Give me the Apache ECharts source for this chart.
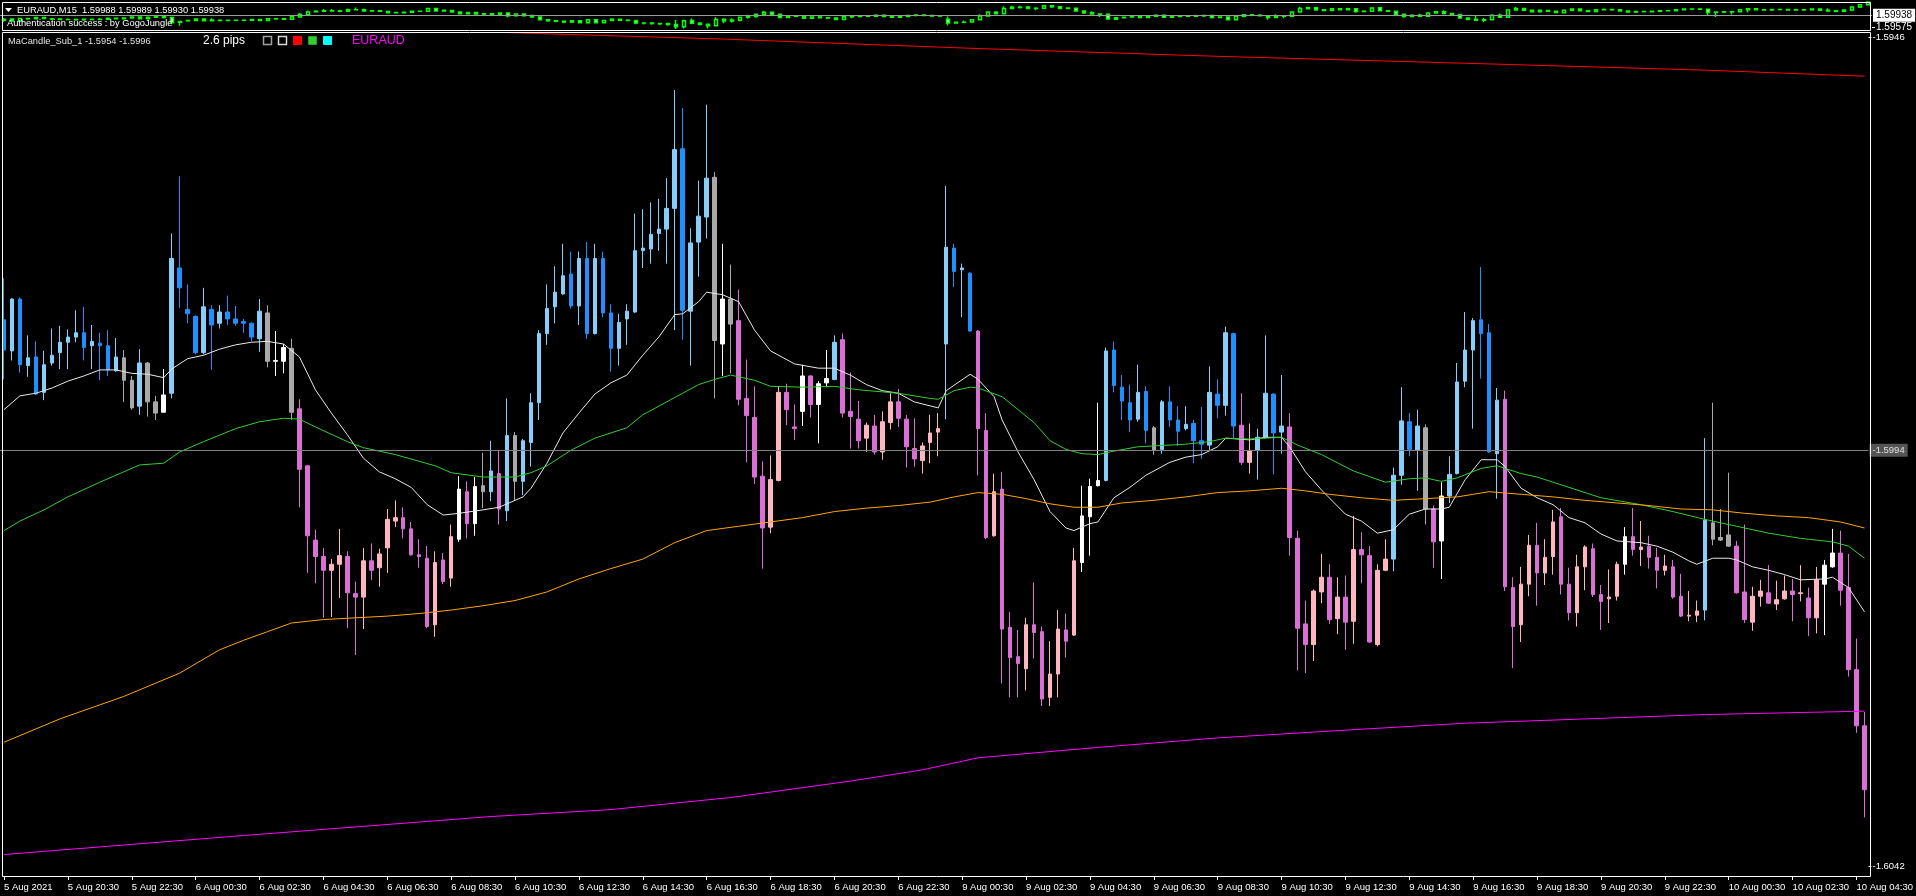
<!DOCTYPE html>
<html><head><meta charset="utf-8">
<script src="https://cdn.jsdelivr.net/npm/echarts@6/dist/echarts.min.js"></script>
<style>html,body{margin:0;padding:0;background:#000;overflow:hidden}#c{width:1916px;height:896px}</style>
</head><body><div id="c"></div>
<script>
// ---- data: MaCandle_Sub_1 sub-window candles (EURAUD M15, values as shown on the sub-window scale) ----
const subOpen = [-1.59787,-1.59823,-1.59763,-1.59840,-1.59830,-1.59871,-1.59837,-1.59825,-1.59813,-1.59807,
-1.59802,-1.59817,-1.59814,-1.59817,-1.59846,-1.59831,-1.59857,-1.59887,-1.59837,-1.59882,
-1.59894,-1.59872,-1.59727,-1.59775,-1.59783,-1.59825,-1.59775,-1.59791,-1.59778,-1.59786,
-1.59789,-1.59791,-1.59809,-1.59779,-1.59835,-1.59835,-1.59820,-1.59890,-1.59956,-1.60042,
-1.60061,-1.60077,-1.60070,-1.60061,-1.60104,-1.60108,-1.60066,-1.60074,-1.60051,-1.60020,
-1.60016,-1.60029,-1.60059,-1.60063,-1.60140,-1.60065,-1.60086,-1.60041,-1.59986,-1.60023,
-1.59979,-1.59986,-1.59965,-1.60008,-1.59921,-1.59974,-1.59929,-1.59883,-1.59803,-1.59772,
-1.59757,-1.59734,-1.59771,-1.59716,-1.59803,-1.59716,-1.59779,-1.59820,-1.59786,-1.59778,
-1.59707,-1.59705,-1.59687,-1.59682,-1.59658,-1.59589,-1.59777,-1.59697,-1.59668,-1.59622,
-1.59815,-1.59763,-1.59788,-1.59878,-1.59900,-1.59968,-1.60027,-1.59973,-1.59871,-1.59911,
-1.59893,-1.59852,-1.59885,-1.59860,-1.59856,-1.59810,-1.59893,-1.59902,-1.59924,-1.59910,
-1.59940,-1.59906,-1.59882,-1.59902,-1.59936,-1.59950,-1.59929,-1.59917,-1.59815,-1.59704,
-1.59729,-1.59733,-1.59800,-1.59915,-1.60037,-1.59983,-1.60143,-1.60177,-1.60191,-1.60140,
-1.60148,-1.60224,-1.60197,-1.60146,-1.60152,-1.60068,-1.60015,-1.59979,-1.59973,-1.59822,
-1.59865,-1.59883,-1.59902,-1.59870,-1.59912,-1.59937,-1.59882,-1.59903,-1.59913,-1.59907,
-1.59927,-1.59932,-1.59873,-1.59886,-1.59803,-1.59909,-1.59952,-1.59938,-1.59923,-1.59873,
-1.59917,-1.59911,-1.60040,-1.60139,-1.60163,-1.60102,-1.60085,-1.60133,-1.60108,-1.60136,
-1.60053,-1.60060,-1.60163,-1.60077,-1.60064,-1.59967,-1.59905,-1.59938,-1.59912,-1.60006,
-1.60043,-1.59991,-1.59965,-1.59858,-1.59822,-1.59787,-1.59802,-1.59942,-1.59879,-1.60097,
-1.60140,-1.60093,-1.60048,-1.60080,-1.60061,-1.60015,-1.60093,-1.60126,-1.60073,-1.60052,
-1.60105,-1.60110,-1.60107,-1.60070,-1.60038,-1.60053,-1.60049,-1.60062,-1.60077,-1.60073,
-1.60107,-1.60130,-1.60129,-1.60123,-1.60022,-1.60039,-1.60036,-1.60049,-1.60102,-1.60137,
-1.60107,-1.60103,-1.60116,-1.60110,-1.60101,-1.60104,-1.60109,-1.60132,-1.60093,-1.60073,
-1.60057,-1.60097,-1.60192,-1.60257];
const subClose = [-1.59822,-1.59763,-1.59839,-1.59831,-1.59873,-1.59839,-1.59828,-1.59813,-1.59807,-1.59802,
-1.59819,-1.59812,-1.59817,-1.59845,-1.59830,-1.59857,-1.59889,-1.59837,-1.59882,-1.59895,
-1.59874,-1.59716,-1.59750,-1.59780,-1.59825,-1.59772,-1.59793,-1.59778,-1.59786,-1.59791,
-1.59791,-1.59807,-1.59777,-1.59835,-1.59834,-1.59819,-1.59894,-1.59960,-1.60037,-1.60061,
-1.60077,-1.60070,-1.60060,-1.60103,-1.60108,-1.60066,-1.60077,-1.60058,-1.60018,-1.60016,
-1.60029,-1.60059,-1.60061,-1.60142,-1.60068,-1.60090,-1.60038,-1.59983,-1.60023,-1.59980,
-1.59986,-1.59962,-1.60006,-1.59921,-1.59974,-1.59927,-1.59883,-1.59803,-1.59774,-1.59755,
-1.59736,-1.59771,-1.59716,-1.59803,-1.59716,-1.59779,-1.59820,-1.59790,-1.59777,-1.59707,
-1.59704,-1.59688,-1.59682,-1.59658,-1.59590,-1.59776,-1.59698,-1.59667,-1.59623,-1.59811,
-1.59763,-1.59792,-1.59879,-1.59898,-1.59969,-1.60028,-1.59972,-1.59871,-1.59891,-1.59913,
-1.59852,-1.59885,-1.59861,-1.59855,-1.59813,-1.59895,-1.59899,-1.59927,-1.59909,-1.59940,
-1.59905,-1.59882,-1.59901,-1.59934,-1.59948,-1.59933,-1.59918,-1.59913,-1.59703,-1.59731,
-1.59727,-1.59800,-1.59913,-1.60039,-1.59986,-1.60145,-1.60178,-1.60185,-1.60140,-1.60149,
-1.60226,-1.60197,-1.60145,-1.60159,-1.60066,-1.60014,-1.59980,-1.59973,-1.59823,-1.59863,
-1.59881,-1.59903,-1.59871,-1.59915,-1.59938,-1.59882,-1.59903,-1.59916,-1.59908,-1.59927,
-1.59931,-1.59871,-1.59886,-1.59802,-1.59910,-1.59952,-1.59939,-1.59923,-1.59872,-1.59918,
-1.59910,-1.60039,-1.60144,-1.60163,-1.60101,-1.60085,-1.60134,-1.60108,-1.60137,-1.60053,
-1.60059,-1.60160,-1.60077,-1.60064,-1.59967,-1.59904,-1.59937,-1.59910,-1.60006,-1.60044,
-1.59991,-1.59966,-1.59859,-1.59822,-1.59788,-1.59803,-1.59940,-1.59880,-1.60096,-1.60142,
-1.60093,-1.60048,-1.60080,-1.60062,-1.60021,-1.60093,-1.60126,-1.60073,-1.60050,-1.60105,
-1.60113,-1.60108,-1.60070,-1.60038,-1.60053,-1.60050,-1.60062,-1.60077,-1.60072,-1.60108,
-1.60130,-1.60129,-1.60124,-1.60019,-1.60041,-1.60042,-1.60049,-1.60103,-1.60134,-1.60107,
-1.60101,-1.60115,-1.60111,-1.60101,-1.60105,-1.60103,-1.60132,-1.60088,-1.60071,-1.60057,
-1.60100,-1.60192,-1.60257,-1.60331];
const subHigh = [-1.59739,-1.59762,-1.59761,-1.59805,-1.59812,-1.59823,-1.59797,-1.59794,-1.59798,-1.59776,
-1.59772,-1.59793,-1.59802,-1.59799,-1.59808,-1.59822,-1.59852,-1.59821,-1.59836,-1.59875,
-1.59844,-1.59687,-1.59621,-1.59746,-1.59782,-1.59750,-1.59770,-1.59770,-1.59759,-1.59771,
-1.59786,-1.59790,-1.59763,-1.59770,-1.59800,-1.59815,-1.59809,-1.59879,-1.59955,-1.60030,
-1.60051,-1.60064,-1.60029,-1.60055,-1.60090,-1.60051,-1.60046,-1.60052,-1.60006,-1.59996,
-1.60004,-1.60021,-1.60041,-1.60049,-1.60055,-1.60057,-1.60024,-1.59968,-1.59974,-1.59969,
-1.59941,-1.59927,-1.59939,-1.59878,-1.59917,-1.59925,-1.59872,-1.59799,-1.59746,-1.59725,
-1.59699,-1.59708,-1.59708,-1.59697,-1.59699,-1.59708,-1.59769,-1.59780,-1.59769,-1.59664,
-1.59659,-1.59651,-1.59647,-1.59623,-1.59521,-1.59542,-1.59681,-1.59626,-1.59538,-1.59616,
-1.59699,-1.59723,-1.59752,-1.59833,-1.59864,-1.59951,-1.59944,-1.59864,-1.59861,-1.59885,
-1.59839,-1.59851,-1.59858,-1.59822,-1.59805,-1.59803,-1.59848,-1.59881,-1.59906,-1.59897,
-1.59893,-1.59872,-1.59867,-1.59897,-1.59901,-1.59929,-1.59897,-1.59895,-1.59632,-1.59699,
-1.59722,-1.59732,-1.59799,-1.59895,-1.59965,-1.59963,-1.60125,-1.60146,-1.60132,-1.60091,
-1.60142,-1.60159,-1.60123,-1.60127,-1.60051,-1.59979,-1.59971,-1.59883,-1.59819,-1.59812,
-1.59851,-1.59862,-1.59839,-1.59864,-1.59910,-1.59880,-1.59864,-1.59887,-1.59887,-1.59903,
-1.59888,-1.59841,-1.59856,-1.59795,-1.59802,-1.59872,-1.59907,-1.59913,-1.59805,-1.59872,
-1.59851,-1.59895,-1.60031,-1.60112,-1.60099,-1.60058,-1.60070,-1.60085,-1.60083,-1.60014,
-1.60033,-1.60049,-1.60070,-1.60041,-1.59958,-1.59865,-1.59895,-1.59891,-1.59908,-1.60002,
-1.59975,-1.59945,-1.59837,-1.59778,-1.59785,-1.59726,-1.59792,-1.59866,-1.59869,-1.60085,
-1.60073,-1.60036,-1.60022,-1.60041,-1.60007,-1.60005,-1.60074,-1.60059,-1.60048,-1.60046,
-1.60094,-1.60076,-1.60067,-1.60027,-1.60005,-1.60020,-1.60037,-1.60051,-1.60059,-1.60065,
-1.60081,-1.60101,-1.60112,-1.59924,-1.59883,-1.60006,-1.59964,-1.60043,-1.60024,-1.60096,
-1.60088,-1.60071,-1.60089,-1.60083,-1.60087,-1.60071,-1.60097,-1.60073,-1.60065,-1.60029,
-1.60031,-1.60058,-1.60156,-1.60241];
const subLow = [-1.59856,-1.59834,-1.59848,-1.59853,-1.59874,-1.59880,-1.59840,-1.59844,-1.59844,-1.59813,
-1.59834,-1.59844,-1.59857,-1.59852,-1.59847,-1.59882,-1.59891,-1.59897,-1.59899,-1.59903,
-1.59894,-1.59878,-1.59773,-1.59791,-1.59827,-1.59827,-1.59845,-1.59797,-1.59793,-1.59794,
-1.59802,-1.59812,-1.59824,-1.59842,-1.59852,-1.59849,-1.59903,-1.60004,-1.60080,-1.60092,
-1.60132,-1.60131,-1.60109,-1.60144,-1.60175,-1.60145,-1.60088,-1.60096,-1.60080,-1.60027,
-1.60040,-1.60060,-1.60074,-1.60144,-1.60154,-1.60093,-1.60096,-1.60044,-1.60040,-1.60037,
-1.60005,-1.59997,-1.60024,-1.60020,-1.59996,-1.59990,-1.59957,-1.59903,-1.59816,-1.59791,
-1.59758,-1.59774,-1.59793,-1.59809,-1.59804,-1.59784,-1.59847,-1.59840,-1.59816,-1.59779,
-1.59727,-1.59722,-1.59707,-1.59722,-1.59799,-1.59810,-1.59840,-1.59737,-1.59693,-1.59878,
-1.59852,-1.59849,-1.59886,-1.59952,-1.59977,-1.60075,-1.60034,-1.59974,-1.59909,-1.59926,
-1.59910,-1.59900,-1.59930,-1.59865,-1.59857,-1.59900,-1.59936,-1.59936,-1.59940,-1.59943,
-1.59949,-1.59914,-1.59911,-1.59958,-1.59957,-1.59965,-1.59953,-1.59945,-1.59902,-1.59749,
-1.59784,-1.59801,-1.59967,-1.60041,-1.60038,-1.60208,-1.60224,-1.60224,-1.60216,-1.60179,
-1.60234,-1.60234,-1.60224,-1.60178,-1.60153,-1.60079,-1.60060,-1.59980,-1.59974,-1.59871,
-1.59903,-1.59917,-1.59905,-1.59930,-1.59943,-1.59942,-1.59911,-1.59933,-1.59915,-1.59953,
-1.59948,-1.59939,-1.59901,-1.59898,-1.59924,-1.59955,-1.59965,-1.59972,-1.59924,-1.59966,
-1.59942,-1.60060,-1.60193,-1.60196,-1.60182,-1.60115,-1.60139,-1.60151,-1.60169,-1.60162,
-1.60092,-1.60161,-1.60165,-1.60078,-1.60078,-1.59978,-1.59945,-1.59985,-1.60024,-1.60074,
-1.60087,-1.59999,-1.59966,-1.59865,-1.59913,-1.59855,-1.59941,-1.59994,-1.60101,-1.60190,
-1.60160,-1.60107,-1.60118,-1.60094,-1.60082,-1.60105,-1.60135,-1.60142,-1.60100,-1.60108,
-1.60146,-1.60138,-1.60112,-1.60082,-1.60060,-1.60072,-1.60075,-1.60098,-1.60083,-1.60110,
-1.60131,-1.60136,-1.60137,-1.60135,-1.60048,-1.60043,-1.60050,-1.60104,-1.60138,-1.60147,
-1.60119,-1.60116,-1.60123,-1.60111,-1.60136,-1.60113,-1.60153,-1.60150,-1.60152,-1.60074,
-1.60118,-1.60200,-1.60265,-1.60363];
// candle colour zone per bar: B = blue, P = pink, W = white/grey
const zones = ['BBBBBBBBBBBBBBB','WW','B','WWW','BBBBBBBBBBBB','WWWW','PPPPPPPPPPPPPPPPPPPP','W','P','WW','B','P','B','W',
'BBBBBBBBBBBBBBBBBBBBBBBB','WWW','PPPPPPPP','W','P','WW','B','PPPPPPPPPPPPP','BBBB','PPPPPPPPPPPPP','WWW','BBBBBB','W',
'BBBBBBBBBB','PP','BBBB','PPPPPPPPPPPPP','BBBB','W','P','W','BBBBBBB','PPPPPPPPPPPPPPP','W','PPPPPPPPP','B','WWW',
'PPPPPPPPPPP','WW','PPPP'].join('');
// moving averages [bar index, value]
const maWhite = [[0,-1.59891],[2,-1.59875],[4,-1.59872],[6,-1.59866],[8,-1.59858],[10,-1.59852],[12,-1.59845],[14,-1.59845],[16,-1.59849],[18,-1.59850],[20,-1.59854],[21,-1.59844],[23,-1.59832],[25,-1.59828],[27,-1.59821],[29,-1.59816],[31,-1.59813],[33,-1.59812],[35,-1.59815],[37,-1.59830],[39,-1.59868],[41,-1.59895],[43,-1.59920],[45,-1.59947],[47,-1.59963],[49,-1.59971],[51,-1.59981],[53,-1.60001],[55,-1.60013],[57,-1.60011],[60,-1.60007],[62,-1.60004],[65,-1.59992],[66,-1.59982],[68,-1.59953],[70,-1.59918],[72,-1.59895],[74,-1.59873],[76,-1.59860],[78,-1.59851],[80,-1.59828],[82,-1.59807],[84,-1.59781],[85,-1.59780],[87,-1.59766],[88,-1.59755],[90,-1.59758],[92,-1.59766],[94,-1.59799],[96,-1.59823],[99,-1.59838],[102,-1.59843],[104,-1.59843],[106,-1.59851],[108,-1.59862],[110,-1.59869],[112,-1.59872],[114,-1.59882],[117,-1.59889],[118,-1.59869],[121,-1.59850],[122,-1.59856],[124,-1.59876],[125,-1.59903],[127,-1.59940],[129,-1.59972],[131,-1.60009],[133,-1.60028],[134,-1.60031],[136,-1.60023],[137,-1.60021],[139,-1.59993],[141,-1.59981],[143,-1.59967],[146,-1.59952],[148,-1.59946],[150,-1.59943],[152,-1.59934],[153,-1.59924],[156,-1.59926],[158,-1.59923],[160,-1.59923],[161,-1.59934],[163,-1.59963],[165,-1.59984],[168,-1.60012],[170,-1.60020],[172,-1.60034],[174,-1.60030],[176,-1.60012],[178,-1.60006],[180,-1.60006],[181,-1.60004],[183,-1.59972],[185,-1.59949],[187,-1.59949],[188,-1.59957],[190,-1.59982],[192,-1.59993],[194,-1.60001],[196,-1.60016],[198,-1.60022],[200,-1.60035],[202,-1.60043],[205,-1.60045],[207,-1.60049],[209,-1.60056],[211,-1.60066],[212,-1.60070],[214,-1.60063],[216,-1.60063],[217,-1.60065],[219,-1.60073],[221,-1.60077],[223,-1.60082],[225,-1.60088],[228,-1.60087],[229,-1.60085],[231,-1.60097],[233,-1.60125]];
const maGreen = [[0,-1.60031],[2,-1.60020],[5,-1.60007],[8,-1.59992],[12,-1.59975],[15,-1.59963],[17,-1.59955],[20,-1.59953],[22,-1.59940],[25,-1.59928],[29,-1.59913],[32,-1.59905],[35,-1.59901],[37,-1.59902],[39,-1.59911],[43,-1.59928],[45,-1.59935],[49,-1.59943],[54,-1.59956],[56,-1.59964],[60,-1.59969],[64,-1.59969],[66,-1.59964],[68,-1.59956],[71,-1.59938],[74,-1.59924],[78,-1.59912],[80,-1.59897],[83,-1.59882],[85,-1.59872],[87,-1.59862],[89,-1.59856],[91,-1.59851],[94,-1.59857],[96,-1.59864],[100,-1.59865],[104,-1.59864],[107,-1.59868],[112,-1.59872],[116,-1.59878],[117,-1.59879],[119,-1.59869],[121,-1.59865],[122,-1.59866],[125,-1.59876],[129,-1.59906],[131,-1.59927],[133,-1.59937],[135,-1.59942],[137,-1.59943],[139,-1.59939],[142,-1.59934],[144,-1.59933],[148,-1.59931],[151,-1.59928],[153,-1.59924],[156,-1.59925],[160,-1.59923],[162,-1.59932],[165,-1.59943],[169,-1.59962],[173,-1.59975],[176,-1.59971],[178,-1.59970],[180,-1.59974],[182,-1.59970],[185,-1.59959],[187,-1.59956],[190,-1.59965],[192,-1.59969],[196,-1.59981],[200,-1.59993],[205,-1.60001],[209,-1.60009],[213,-1.60018],[217,-1.60026],[221,-1.60034],[225,-1.60040],[229,-1.60044],[231,-1.60049],[233,-1.60063]];
const maOrange = [[0,-1.60276],[7,-1.60249],[15,-1.60223],[22,-1.60196],[27,-1.60169],[30,-1.60158],[33,-1.60148],[36,-1.60138],[40,-1.60134],[44,-1.60132],[48,-1.60130],[52,-1.60127],[56,-1.60123],[60,-1.60118],[64,-1.60112],[68,-1.60102],[72,-1.60087],[76,-1.60075],[80,-1.60064],[84,-1.60045],[88,-1.60031],[92,-1.60026],[96,-1.60021],[100,-1.60016],[104,-1.60009],[108,-1.60005],[112,-1.60002],[116,-1.59998],[119,-1.59992],[122,-1.59987],[125,-1.59989],[128,-1.59994],[131,-1.60000],[134,-1.60004],[137,-1.60004],[140,-1.59999],[144,-1.59996],[148,-1.59992],[152,-1.59987],[156,-1.59985],[160,-1.59982],[163,-1.59985],[166,-1.59989],[170,-1.59993],[174,-1.59996],[178,-1.59994],[182,-1.59992],[186,-1.59986],[190,-1.59989],[194,-1.59992],[198,-1.59996],[202,-1.59999],[206,-1.60002],[210,-1.60006],[214,-1.60007],[218,-1.60011],[222,-1.60014],[226,-1.60016],[230,-1.60021],[233,-1.60028]];
const maMagenta = [[0,-1.60406],[30,-1.60384],[61,-1.60362],[76,-1.60354],[91,-1.60340],[106,-1.60321],[115,-1.60308],[122,-1.60294],[137,-1.60282],[152,-1.60271],[168,-1.60262],[183,-1.60254],[198,-1.60249],[213,-1.60244],[233,-1.60240]];
const maRed = [[0,-1.59437],[61,-1.59454],[90,-1.59462],[122,-1.59473],[152,-1.59482],[183,-1.59490],[213,-1.59498],[233,-1.59505]];
const tickLabels = ['5 Aug 2021','5 Aug 20:30','5 Aug 22:30','6 Aug 00:30','6 Aug 02:30','6 Aug 04:30','6 Aug 06:30','6 Aug 08:30','6 Aug 10:30','6 Aug 12:30','6 Aug 14:30','6 Aug 16:30','6 Aug 18:30','6 Aug 20:30','6 Aug 22:30','9 Aug 00:30','9 Aug 02:30','9 Aug 04:30','9 Aug 06:30','9 Aug 08:30','9 Aug 10:30','9 Aug 12:30','9 Aug 14:30','9 Aug 16:30','9 Aug 18:30','9 Aug 20:30','9 Aug 22:30','10 Aug 00:30','10 Aug 02:30','10 Aug 04:30'];
const subAxisLabels = [-1.5946, -1.6042];
const priceLineSub = -1.59938;
const priceLineMain = 1.59938;
const mainAxisLabels = [1.59575];

// ---- categories: M15 bar times starting 5 Aug 2021 18:30, weekend skipped ----
const categories = [];
(function(){
  let t = Date.UTC(2021,7,5,18,30);
  const mon = ['Jan','Feb','Mar','Apr','May','Jun','Jul','Aug','Sep','Oct','Nov','Dec'];
  for (let i=0;i<subOpen.length;i++){
    const d = new Date(t);
    categories.push(d.getUTCDate()+' '+mon[d.getUTCMonth()]+' '+String(d.getUTCHours()).padStart(2,'0')+':'+String(d.getUTCMinutes()).padStart(2,'0'));
    t += 15*60000;
    if (new Date(t).getUTCDay()===6) t += 2*86400000;
  }
})();

const COLORS = {B:['#87CEFA','#1E90FF'], P:['#FFB6C1','#DA70D6'], W:['#FFFFFF','#A9A9A9']};
const mainData = subOpen.map((o,i)=>{
  const c = subClose[i];
  const col = COLORS[zones[i]][c >= o ? 0 : 1];
  return {value:[o, c, subLow[i], subHigh[i]], itemStyle:{color:col,color0:col,borderColor:col,borderColor0:col,borderColorDoji:col}};
});
const stripData = subOpen.map((o,i)=>[-o, -subClose[i], -subHigh[i], -subLow[i]]);

const FONT = 'Liberation Sans';
function line(data, color){
  return {type:'line', xAxisIndex:1, yAxisIndex:1, data:data, showSymbol:false, symbol:'none', silent:true,
    lineStyle:{color:color, width:1}, itemStyle:{color:color}, clip:true, z:3};
}
const chart = echarts.init(document.getElementById('c'), null, {renderer:'canvas'});
chart.setOption({
  backgroundColor:'#000',
  animation:false,
  textStyle:{fontFamily:FONT},
  grid:[
    {left:0, right:44, top:3, height:27},
    {left:0, right:44, top:33, height:844}
  ],
  xAxis:[
    {type:'category', gridIndex:0, data:categories, boundaryGap:true, axisLine:{show:false}, axisTick:{show:false}, axisLabel:{show:false}, splitLine:{show:false}},
    {type:'category', gridIndex:1, data:categories, boundaryGap:true, axisLine:{show:false},
     axisTick:{show:true, interval:7, alignWithLabel:true, length:3, lineStyle:{color:'#ffffff'}},
     axisLabel:{show:true, interval:7, color:'#ffffff', fontSize:9.5, fontFamily:FONT, margin:5, align:'left',
       formatter:(v,idx)=> (idx%8===0 && tickLabels[idx/8]) ? tickLabels[idx/8] : ''},
     splitLine:{show:false}}
  ],
  yAxis:[
    {type:'value', gridIndex:0, position:'right', min:1.59493, max:1.60310, splitLine:{show:false}, axisLine:{show:false},
     axisTick:{show:true, customValues:mainAxisLabels, length:3, lineStyle:{color:'#fff'}},
     axisLabel:{customValues:mainAxisLabels, formatter:v=>v.toFixed(5), color:'#fff', fontSize:10, fontFamily:FONT, margin:4}},
    {type:'value', gridIndex:1, position:'right', min:-1.60432, max:-1.59455, splitLine:{show:false}, axisLine:{show:false},
     axisTick:{show:true, customValues:subAxisLabels, length:3, lineStyle:{color:'#fff'}},
     axisLabel:{customValues:subAxisLabels, formatter:v=>v.toFixed(4), color:'#fff', fontSize:9.5, fontFamily:FONT, margin:4}}
  ],
  series:[
    {type:'candlestick', xAxisIndex:0, yAxisIndex:0, data:stripData, barWidth:4, silent:true, clip:true,
     itemStyle:{color:'#000000', color0:'#ffffff', borderColor:'#00ff00', borderColor0:'#00ff00', borderColorDoji:'#00ff00', borderWidth:1.5},
     markLine:{symbol:['none','none'], silent:true, animation:false, precision:5,
       lineStyle:{color:'#9a9a9a', width:1, type:'solid'},
       label:{position:'end', distance:1, formatter:()=>priceLineMain.toFixed(5), color:'#000', backgroundColor:'#fff', padding:[2,3,1,3], fontSize:10, fontFamily:FONT},
       data:[{yAxis:priceLineMain}]}},
    {type:'candlestick', xAxisIndex:1, yAxisIndex:1, data:mainData, barWidth:4, silent:true,
     itemStyle:{borderWidth:1},
     markLine:{symbol:['none','none'], silent:true, animation:false, precision:5,
       lineStyle:{color:'#808080', width:1, type:'solid'},
       label:{position:'end', distance:1, formatter:()=>priceLineSub.toFixed(4), color:'#e0e0e0', backgroundColor:'#555555', padding:[2,3,1,3], fontSize:9.5, fontFamily:FONT},
       data:[{yAxis:priceLineSub}]}},
    line(maWhite,'#e8e8e8'),
    line(maGreen,'#32cd32'),
    line(maOrange,'#ffa500'),
    line(maMagenta,'#ff00ff'),
    line(maRed,'#ff0000')
  ],
  graphic:[
    {type:'rect', z:100, silent:true, shape:{x:2.5,y:2.5,width:1868,height:28}, style:{fill:'none', stroke:'#ffffff', lineWidth:1}},
    {type:'rect', z:100, silent:true, shape:{x:2.5,y:32.5,width:1868,height:844}, style:{fill:'none', stroke:'#ffffff', lineWidth:1}},
    {type:'polygon', z:100, shape:{points:[[5,8],[12,8],[8.5,12]]}, style:{fill:'#ffffff'}},
    {type:'text', z:100, x:17, y:10, style:{text:'EURAUD,M15  1.59988 1.59989 1.59930 1.59938', fill:'#ffffff', font:'9.3px "Liberation Sans"', verticalAlign:'middle'}},
    {type:'text', z:100, x:7, y:23, style:{text:'Authentication success : by GogoJungle', fill:'#ffffff', font:'9.3px "Liberation Sans"', verticalAlign:'middle'}},
    {type:'text', z:100, x:8, y:41, style:{text:'MaCandle_Sub_1 -1.5954 -1.5996', fill:'#e0e0e0', font:'9.3px "Liberation Sans"', verticalAlign:'middle'}},
    {type:'text', z:100, x:203, y:41, style:{text:'2.6 pips', fill:'#ffffff', font:'12px "Liberation Sans"', verticalAlign:'middle'}},
    {type:'rect', z:100, shape:{x:263.5,y:36.5,width:8,height:8}, style:{fill:'#000', stroke:'#a0a0a0', lineWidth:1.5}},
    {type:'rect', z:100, shape:{x:278.5,y:36.5,width:8,height:8}, style:{fill:'#000', stroke:'#d8d8d8', lineWidth:1.5}},
    {type:'rect', z:100, shape:{x:293.5,y:36.5,width:8,height:8}, style:{fill:'#ff0000', stroke:'#ff0000', lineWidth:1}},
    {type:'rect', z:100, shape:{x:308.5,y:36.5,width:8,height:8}, style:{fill:'#32cd32', stroke:'#22a022', lineWidth:1}},
    {type:'rect', z:100, shape:{x:323.5,y:36.5,width:8,height:8}, style:{fill:'#00ffff', stroke:'#00ffff', lineWidth:1}},
    {type:'text', z:100, x:352, y:41, style:{text:'EURAUD', fill:'#ff00ff', font:'12.5px "Liberation Sans"', verticalAlign:'middle'}}
  ]
});
</script>
</body></html>
